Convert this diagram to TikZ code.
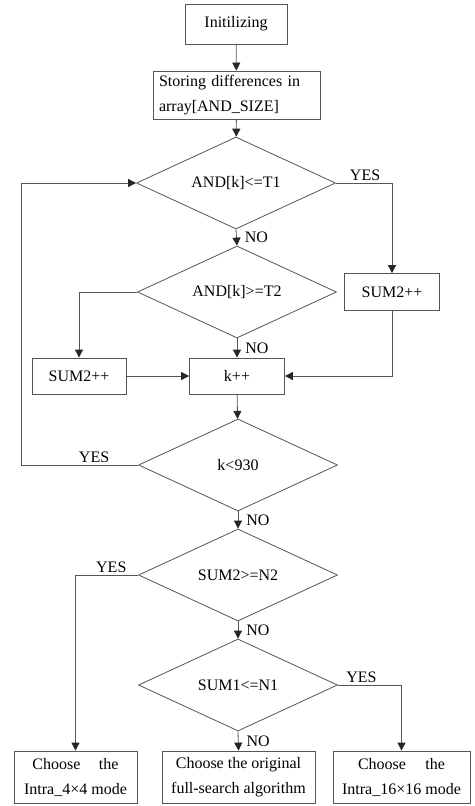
\documentclass[tikz,border=0pt]{standalone}
\usepackage{fontspec}
\setmainfont{Liberation Serif}
\usetikzlibrary{shapes.geometric,arrows.meta}
\definecolor{linegray}{HTML}{555555}
\tikzset{every node/.style={font=\fontsize{16}{25}\selectfont, text=black},
    box/.style={draw=linegray, line width=0.8pt, inner sep=0pt, align=center},
    decision/.style={diamond, draw=linegray, line width=0.8pt, aspect=2.16,
        minimum width=199pt, minimum height=92pt, inner sep=0pt},
    arr/.style={draw=linegray, line width=0.8pt,
        -{Triangle[length=8pt,width=8pt,color=black!85]}},
    lbl/.style={inner sep=1.5pt},
    nolbl/.style={inner sep=0pt, anchor=west, xshift=8pt},
    }

\begin{document}
\begin{tikzpicture}[x=1pt,y=-1pt]
	\useasboundingbox (0,0) rectangle (474,806);
	% steps
	\node[box, minimum width=102pt, minimum height=40pt] (init) at (236,24) {Initilizing};
	\node[box, minimum width=167pt, minimum height=48pt, text width=155pt,
		inner xsep=6pt, align=left] (store) at (236.5,95)
		{\makebox[155pt][s]{Storing differences in}\\array[AND\_SIZE]};
	\node[decision] (d1) at (236,183) {AND[k]<=T1};
	\node[box, minimum width=95pt, minimum height=37pt] (sumR) at (392,292) {SUM2++};
	\node[decision] (d2) at (237,292) {AND[k]>=T2};
	\node[box, minimum width=94pt, minimum height=36pt] (sumL) at (79,376) {SUM2++};
	\node[box, minimum width=95pt, minimum height=36pt] (kpp) at (237,376) {k++};
	\node[decision] (d3) at (238,465) {k<930};
	\node[decision] (d4) at (238,575) {SUM2>=N2};
	\node[decision] (d5) at (238,685) {SUM1<=N1};
	% results
	\node[box, minimum width=123pt, minimum height=52pt] (intra4) at (75.5,777)
		{\makebox[86pt][s]{Choose the}\\Intra\_4×4 mode};
	\node[box, minimum width=153pt, minimum height=52pt] (full) at (238.5,777)
		{Choose the original\\full-search algorithm};
	\node[box, minimum width=137pt, minimum height=52pt] (intra16) at (401.5,777)
		{\makebox[87pt][s]{Choose the}\\Intra\_16×16 mode};
	\coordinate (loopx) at (21,0);
	% connectors
	\draw[arr] (init) -- (store);
	\draw[arr] (store) -- (d1);
	\draw[arr] (d1.east) -| node[lbl, pos=0.26, above] {YES} (sumR.north);
	\draw[arr] (d1.south) -- node[nolbl] {NO} (d2.north);
	\draw[arr] (d2.west) -| (sumL.north);
	\draw[arr] (d2.south) -- node[nolbl] {NO} (kpp.north);
	\draw[arr] (sumL) -- (kpp);
	\draw[arr] (sumR.south) |- (kpp.east);
	\draw[arr] (kpp) -- (d3);
	\draw[arr] (d3.west) -- node[lbl, pos=0.376, above] {YES} (d3.west -| loopx) |- (d1.west);
	\draw[arr] (d3.south) -- node[nolbl] {NO} (d4.north);
	\draw[arr] (d4.west) -| node[lbl, pos=0.214, above] {YES} (intra4.north);
	\draw[arr] (d4.south) -- node[nolbl] {NO} (d5.north);
	\draw[arr] (d5.east) -| node[lbl, pos=0.185, above] {YES} (intra16.north);
	\draw[arr] (d5.south) -- node[nolbl] {NO} (full.north);
\end{tikzpicture}
\end{document}
